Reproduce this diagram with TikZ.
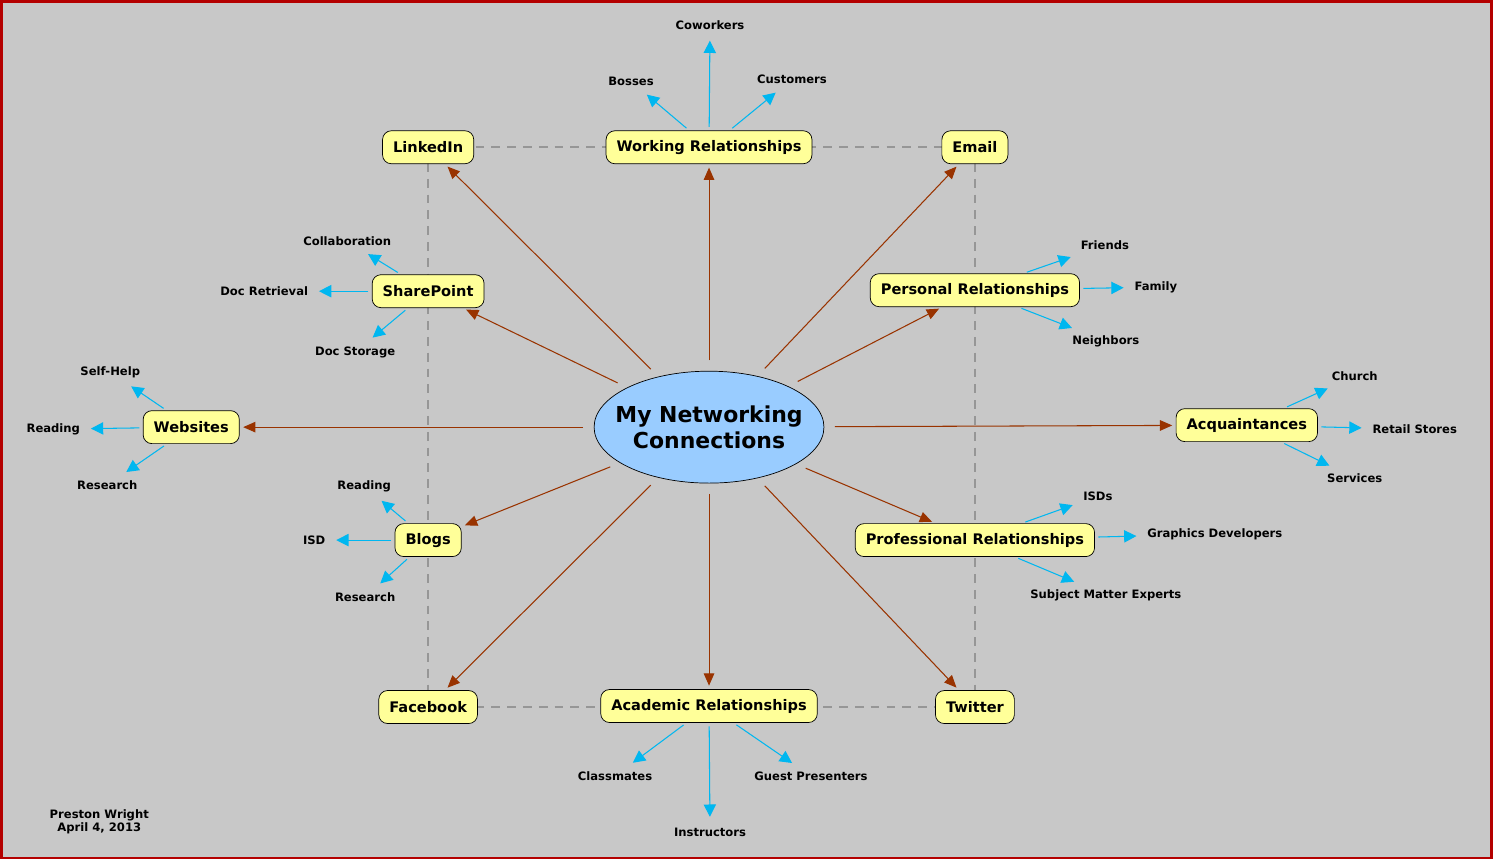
\documentclass[tikz,border=0pt]{standalone}
\usepackage{fontspec}
\setmainfont{DejaVu Sans}
\usetikzlibrary{arrows.meta,shapes.geometric}
\definecolor{bg}{RGB}{200,200,200}
\definecolor{frame}{RGB}{180,0,0}
\definecolor{yel}{RGB}{255,255,153}
\definecolor{blu}{RGB}{153,204,255}
\definecolor{brn}{RGB}{153,51,0}
\definecolor{cya}{RGB}{0,183,240}
\definecolor{dsh}{RGB}{150,150,150}
\tikzset{
 topic/.style={draw=black,fill=yel,rounded corners=5pt,font=\bfseries\fontsize{8.3}{10}\selectfont,inner xsep=6pt,minimum height=0.66cm},
 leaf/.style={font=\bfseries\fontsize{6.6}{8}\selectfont,inner sep=3pt},
 main/.style={-{Triangle[length=7pt,width=6pt]},brn,line width=0.6pt,shorten <=6pt,shorten >=2pt},
 sub/.style={-{Triangle[length=7pt,width=7pt]},cya,line width=0.6pt,shorten <=2pt,shorten >=3pt},
 link/.style={dsh,dashed,line width=1pt,dash pattern=on 5pt off 4pt}
}
\begin{document}
\begin{tikzpicture}[x=0.02cm,y=-0.02cm]
\fill[bg] (0,0) rectangle (1493,859);
\draw[frame,line width=1.5pt] (1,1) rectangle (1492,858);
\useasboundingbox (0,0) rectangle (1493,859);
\node[draw=black,fill=blu,ellipse,minimum width=4.6cm,minimum height=2.24cm,inner xsep=-14pt,inner ysep=0pt,align=center,font=\bfseries\fontsize{12.5}{15}\selectfont] (c) at (709,427) {My Networking\\Connections};
\coordinate (lk) at (428,147); \coordinate (em) at (975,147);
\coordinate (fb) at (428,707); \coordinate (tw) at (975,707);
\draw[link] (lk) -- (em); \draw[link] (fb) -- (tw);
\draw[link] (lk) -- (fb); \draw[link] (em) -- (tw);
\node[topic] (wr) at (709,147) {Working Relationships};
\node[topic] (li) at (lk) {LinkedIn};
\node[topic] (e) at (em) {Email};
\node[topic] (sp) at (428,291) {SharePoint};
\node[topic] (pr) at (975,290) {Personal Relationships};
\node[topic] (ws) at (191,427) {Websites};
\node[topic] (aq) at (1247,425) {Acquaintances};
\node[topic] (bl) at (428,540) {Blogs};
\node[topic] (pf) at (975,540) {Professional Relationships};
\node[topic] (f) at (fb) {Facebook};
\node[topic] (ar) at (709,706) {Academic Relationships};
\node[topic] (t) at (tw) {Twitter};
\foreach \n in {wr,li,e,sp,pr,ws,aq,bl,pf,f,ar,t} \draw[main] (c) -- (\n);
\node[leaf] (w1) at (710,25) {Coworkers};
\node[leaf] (w2) at (631,81) {Bosses};
\node[leaf] (w3) at (792,79) {Customers};
\node[leaf] (s1) at (347,241) {Collaboration};
\node[leaf] (s2) at (264,291) {Doc Retrieval};
\node[leaf] (s3) at (355,352) {Doc Storage};
\node[leaf] (p1) at (1105,245) {Friends};
\node[leaf] (p2) at (1156,287) {Family};
\node[leaf] (p3) at (1106,341) {Neighbors};
\node[leaf] (x1) at (110,372) {Self-Help};
\node[leaf] (x2) at (53,429) {Reading};
\node[leaf] (x3) at (107,485) {Research};
\node[leaf] (a1) at (1355,376) {Church};
\node[leaf] (a2) at (1415,429) {Retail Stores};
\node[leaf] (a3) at (1355,478) {Services};
\node[leaf] (b1) at (364,486) {Reading};
\node[leaf] (b2) at (314,540) {ISD};
\node[leaf] (b3) at (365,597) {Research};
\node[leaf] (q1) at (1098,496) {ISDs};
\node[leaf] (q2) at (1215,534) {Graphics Developers};
\node[leaf] (q3) at (1106,595) {Subject Matter Experts};
\node[leaf] (r1) at (615,776) {Classmates};
\node[leaf] (r2) at (811,776) {Guest Presenters};
\node[leaf] (r3) at (710,832) {Instructors};
\foreach \a/\b in {wr/w1,wr/w2,wr/w3,sp/s1,sp/s2,sp/s3,pr/p1,pr/p2,pr/p3,ws/x1,ws/x2,ws/x3,aq/a1,aq/a2,aq/a3,bl/b1,bl/b2,bl/b3,pf/q1,pf/q2,pf/q3,ar/r1,ar/r2,ar/r3}
 \draw[sub] (\a) -- (\b);
\node[leaf,align=center,font=\bfseries\fontsize{6.6}{7.6}\selectfont] (au) at (99,822) {Preston Wright\\April 4, 2013};
\end{tikzpicture}
\end{document}
